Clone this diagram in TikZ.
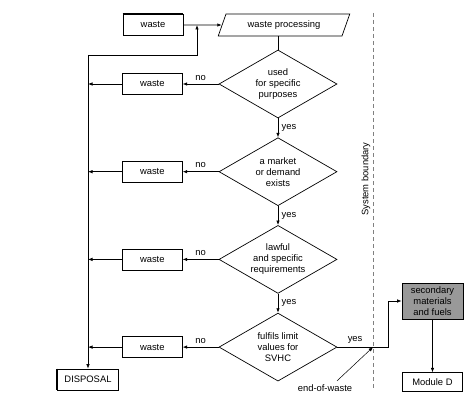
\documentclass[tikz,border=0pt]{standalone}
\usepackage{fontspec}
\setmainfont{Liberation Sans}
\usepackage{tikz}
\usetikzlibrary{shapes,arrows,positioning,calc,arrows.meta}
\definecolor{secgray}{gray}{0.6}

\begin{document}
\begin{tikzpicture}[x=1pt, y=-1pt, node distance=19pt, line width=0.7pt,
    font=\fontsize{9.4}{11}\selectfont,
    box/.style={draw, minimum width=60pt, minimum height=21pt, inner sep=1pt, align=center},
    decision/.style={diamond, draw, aspect=1.74, minimum width=118pt, minimum height=68pt, inner sep=0pt, align=center},
    arr/.style={-{Latex[length=4.5pt,width=3.5pt]}}]
    \useasboundingbox (0,0) rectangle (474,404);

    \node [box] (w0) at (153,25) {waste};
    \node [trapezium, draw, trapezium left angle=61, trapezium right angle=119,
           trapezium stretches=true, minimum width=132pt, minimum height=22pt, inner sep=0pt] (proc) at (284,25) {waste processing};
    \node [decision] (d1) at (278,84) {used\\for specific\\purposes};
    \node [decision, below=of d1] (d2) {a market\\or demand\\exists};
    \node [decision, below=of d2] (d3) {lawful\\and specific\\requirements};
    \node [decision, below=of d3] (d4) {fulfils limit\\values for\\SVHC};
    \node [box, left=36pt of d1] (w1) {waste};
    \node [box, left=36pt of d2] (w2) {waste};
    \node [box, left=36pt of d3] (w3) {waste};
    \node [box, left=36pt of d4] (w4) {waste};
    \node [box, minimum width=61pt] (disp) at (88,379.5) {DISPOSAL};
    \node [box, fill=secgray, minimum width=61pt, minimum height=36pt] (sec) at (432.5,301) {secondary\\materials\\and fuels};
    \node [box, minimum height=19pt, below=53pt of sec] (modD) {Module D};
    \node (eow) at (325,388) {end-of-waste};
    \node [rotate=90] (sysb) at (366,179) {System boundary};

    \coordinate (trunk) at (88,55);
    \coordinate (loop) at (197,55);
    \coordinate (bt) at (373,13);
    \coordinate (bb) at (373,390);
    \coordinate (turn) at (388,302);

    \draw [line width=1.4pt] (w0.north west) -- (w0.north east);
    \draw [line width=1.4pt] (disp.north west) -- (disp.south west);
    \draw [gray, dashed, dash pattern=on 4pt off 3pt] (bt) -- (bb);

    \draw [arr] (w0) -- (proc);
    \draw [arr] (trunk) -- (loop) -- (w0.east -| loop);
    \draw (d1.north |- proc.south) -- (d1);
    \draw [arr] (d1) -- node[right] {yes} (d2);
    \draw [arr] (d2) -- node[right] {yes} (d3);
    \draw [arr] (d3) -- node[right] {yes} (d4);
    \draw [arr] (d1) -- node[above] {no} (w1);
    \draw [arr] (d2) -- node[above] {no} (w2);
    \draw [arr] (d3) -- node[above] {no} (w3);
    \draw [arr] (d4) -- node[above] {no} (w4);
    \draw [arr] (w1) -- (w1 -| trunk);
    \draw [arr] (w2) -- (w2 -| trunk);
    \draw [arr] (w3) -- (w3 -| trunk);
    \draw [arr] (w4) -- (w4 -| trunk);
    \draw [arr] (trunk) -- (disp);
    \draw [arr] (d4.east) -- node[above, pos=0.35] {yes} (d4.east -| turn) |- (sec.west);
    \draw [arr] (sec) -- (modD);
    \draw [arr, line width=0.5pt] ([xshift=12pt]eow.north) -- (d4.east -| bt);
\end{tikzpicture}
\end{document}
